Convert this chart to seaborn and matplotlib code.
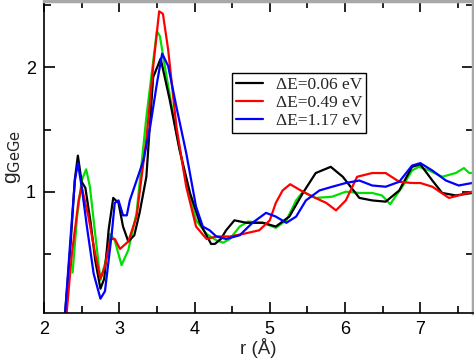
import numpy as np
import pandas as pd
import matplotlib
matplotlib.use("Agg")
import matplotlib.pyplot as plt
import seaborn as sns
from matplotlib.ticker import MultipleLocator

# =========================
# DATA
# =========================
r_black = [2.28, 2.35, 2.41, 2.45, 2.50, 2.55, 2.62, 2.68, 2.75, 2.80, 2.86, 2.92, 2.99, 3.05,
           3.12, 3.20, 3.27, 3.36, 3.45, 3.55, 3.67, 3.80, 3.94, 4.07, 4.22, 4.27, 4.35,
           4.42, 4.53, 4.69, 4.91, 5.08, 5.26, 5.44, 5.61, 5.81, 5.97, 6.19, 6.36, 6.54,
           6.72, 6.89, 7.00, 7.16, 7.29, 7.47, 7.69]
g_black = [0.02, 0.55, 1.10, 1.29, 1.08, 1.03, 0.75, 0.45, 0.22, 0.30, 0.70, 0.95, 0.91, 0.72,
           0.60, 0.65, 0.83, 1.12, 1.92, 2.07, 1.74, 1.34, 0.99, 0.75, 0.58, 0.58, 0.62,
           0.69, 0.77, 0.75, 0.75, 0.72, 0.80, 0.99, 1.15, 1.20, 1.12, 0.95, 0.93, 0.92,
           1.01, 1.20, 1.22, 1.09, 0.99, 0.97, 0.99]

r_red = [2.30, 2.37, 2.46, 2.50, 2.59, 2.68, 2.75, 2.81, 2.88, 2.94, 3.01, 3.12, 3.23, 3.36,
         3.45, 3.53, 3.58, 3.65, 3.76, 3.89, 4.02, 4.16, 4.29, 4.47, 4.64, 4.86, 5.00,
         5.08, 5.17, 5.27, 5.44, 5.57, 5.75, 5.88, 6.01, 6.16, 6.36, 6.54, 6.72, 6.89,
         7.00, 7.16, 7.38, 7.51, 7.69]
g_red = [0.02, 0.50, 0.93, 1.04, 0.80, 0.50, 0.30, 0.40, 0.62, 0.62, 0.54, 0.60, 0.80, 1.42,
         2.00, 2.45, 2.43, 2.14, 1.52, 1.04, 0.72, 0.62, 0.64, 0.64, 0.66, 0.69, 0.77,
         0.91, 1.01, 1.06, 1.00, 0.96, 0.91, 0.85, 0.93, 1.12, 1.15, 1.15, 1.08, 1.07,
         1.07, 1.04, 0.95, 0.97, 1.00]

r_blue = [2.28, 2.35, 2.41, 2.45, 2.50, 2.57, 2.66, 2.75, 2.81, 2.90, 2.94, 2.99, 3.05, 3.10,
          3.14, 3.32, 3.41, 3.50, 3.57, 3.65, 3.76, 3.89, 4.02, 4.11, 4.20, 4.29, 4.42,
          4.60, 4.77, 4.95, 5.08, 5.22, 5.35, 5.48, 5.66, 5.83, 6.01, 6.19, 6.36, 6.54,
          6.72, 6.89, 7.00, 7.16, 7.34, 7.51, 7.69]
g_blue = [0.02, 0.61, 1.09, 1.23, 1.04, 0.72, 0.34, 0.14, 0.20, 0.66, 0.91, 0.93, 0.81, 0.81,
          0.93, 1.25, 1.52, 1.87, 2.11, 2.01, 1.68, 1.31, 0.88, 0.72, 0.69, 0.64, 0.62,
          0.65, 0.75, 0.83, 0.80, 0.75, 0.80, 0.93, 1.01, 1.04, 1.07, 1.09, 1.05, 1.04,
          1.08, 1.21, 1.23, 1.17, 1.09, 1.05, 1.07]

r_green = [2.38, 2.44, 2.50, 2.56, 2.61, 2.68, 2.75, 2.81, 2.88, 2.94, 3.03, 3.12, 3.23, 3.36,
           3.50, 3.54, 3.63, 3.76, 3.89, 4.02, 4.16, 4.29, 4.38, 4.47, 4.60, 4.71, 4.91,
           5.08, 5.22, 5.35, 5.44, 5.61, 5.83, 6.01, 6.19, 6.36, 6.49, 6.60, 6.76, 6.89,
           6.98, 7.12, 7.29, 7.47, 7.58, 7.65, 7.69]
g_green = [0.35, 0.80, 1.09, 1.18, 1.04, 0.66, 0.29, 0.42, 0.66, 0.61, 0.41, 0.53, 0.83, 1.60,
           2.29, 2.25, 1.92, 1.47, 1.07, 0.77, 0.66, 0.61, 0.59, 0.62, 0.72, 0.76, 0.75,
           0.71, 0.77, 0.93, 1.00, 0.95, 0.96, 1.00, 0.99, 0.99, 0.97, 0.90, 1.04, 1.17,
           1.20, 1.17, 1.12, 1.15, 1.19, 1.15, 1.15]

labels = ["\u0394E=0.06 eV", "\u0394E=0.49 eV", "\u0394E=1.17 eV"]

# =========================
# PLOT
# =========================
sns.set_style("ticks")
plt.rcParams["font.family"] = ["Liberation Sans", "DejaVu Sans"]

fig = plt.figure(figsize=(4.74, 3.59), dpi=100)
ax = fig.add_axes([44 / 474, 1 - 312.5 / 359, 429 / 474, 311.5 / 359])

sns.lineplot(x=r_green, y=g_green, ax=ax, color="#00e000", lw=1.6, sort=False)
sns.lineplot(x=r_black, y=g_black, ax=ax, color="black", lw=1.6, sort=False, label=labels[0])
sns.lineplot(x=r_red, y=g_red, ax=ax, color="#ff0000", lw=1.6, sort=False, label=labels[1])
sns.lineplot(x=r_blue, y=g_blue, ax=ax, color="#0000ff", lw=1.6, sort=False, label=labels[2])

ax.set_xlim(2, 7.70)
ax.set_ylim(0.029, 2.533)
ax.xaxis.set_major_locator(MultipleLocator(1))
ax.xaxis.set_minor_locator(MultipleLocator(0.5))
ax.yaxis.set_major_locator(MultipleLocator(1))
ax.yaxis.set_minor_locator(MultipleLocator(0.5))
ax.tick_params(which="both", direction="in", top=True, right=True, width=1.2,
               labelsize=13, colors="black")
ax.tick_params(which="major", length=8, pad=6)
ax.tick_params(which="minor", length=5)

for side in ["left", "bottom"]:
    ax.spines[side].set_color("black")
    ax.spines[side].set_linewidth(1.2)
for side in ["top", "right"]:
    ax.spines[side].set_color("#a8a8a8")
    ax.spines[side].set_linewidth(2.5)

ax.set_xlabel("r (\u00c5)", fontsize=13.5, labelpad=0)
ax.set_ylabel("g$_{\\mathrm{GeGe}}$", fontsize=15)
ax.yaxis.set_label_coords(-0.05, 0.5)

leg = ax.legend(loc="upper left", bbox_to_anchor=(0.438, 0.769), borderaxespad=0,
                fancybox=False, edgecolor="black", framealpha=1,
                prop={"family": "Liberation Serif", "size": 12.5},
                handlelength=1.6, handletextpad=0.7, labelspacing=0.1,
                borderpad=0.22)
leg.get_frame().set_linewidth(1.0)

plt.savefig("out.png", dpi=100)
